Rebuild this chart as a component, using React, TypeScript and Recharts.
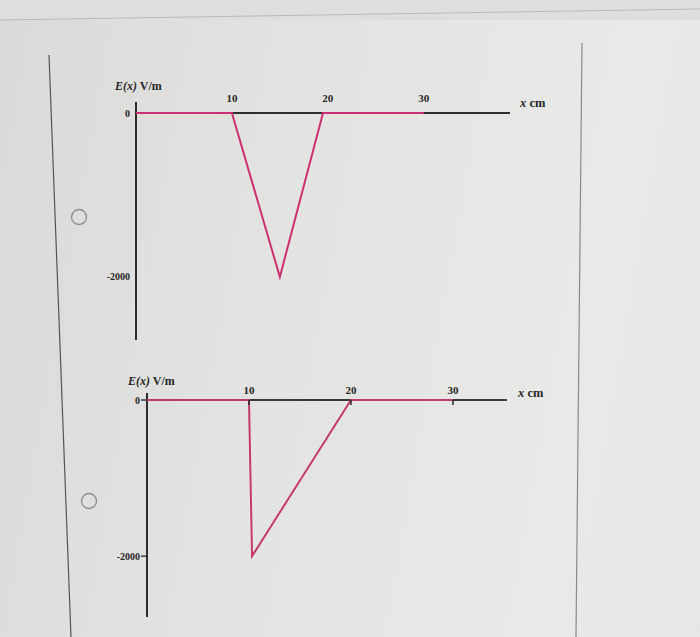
import React from 'react';
import { LineChart, Line, XAxis, YAxis, ReferenceLine } from 'recharts';

// top graph: symmetric V between 10 and 20 cm
const topX = [0, 10, 15, 19.5, 30];
const topE = [0, 0, -2000, 0, 0];
// bottom graph: sudden drop at 10, linear rise back to 0 at 20
const bottomX = [0, 10, 10.3, 20, 30];
const bottomE = [0, 0, -2000, 0, 0];

const xTicks = [10, 20, 30];
const yTicks = [0, -2000];

const topData = topX.map((x, i) => ({ x, e: topE[i] }));
const bottomData = bottomX.map((x, i) => ({ x, e: bottomE[i] }));

const font = '"Liberation Serif", "DejaVu Serif", serif';
const ink = '#262626';

const makeTick = (mark: boolean, dy: number) => (p: any) => (
  <g>
    <text x={p.x} y={p.y + dy} textAnchor="middle" fontFamily={font} fontSize={11} fontWeight="bold" fill={ink}>
      {p.payload.value}
    </text>
    {mark && <line x1={p.x} x2={p.x} y1={p.y + 7} y2={p.y + 12} stroke={ink} strokeWidth={1.5} />}
  </g>
);

const yTickStyle = { fontFamily: font, fontSize: 10, fontWeight: 'bold', fill: ink } as const;

export default function App() {
  return (
    <div
      style={{
        position: 'fixed',
        left: 0,
        top: 0,
        width: 700,
        height: 637,
        overflow: 'hidden',
        background: 'linear-gradient(100deg, #dadbd8 0%, #e3e4e1 40%, #e9e9e8 80%, #e6e6e5 100%)',
      }}
    >
      <svg width={700} height={637} style={{ position: 'absolute', left: 0, top: 0 }}>
        <rect x={0} y={0} width={700} height={20} fill="#dedfdd" />
        <line x1={0} y1={20} x2={700} y2={9} stroke="#b9bab8" strokeWidth={1} />
        <line x1={49} y1={55} x2={71} y2={637} stroke="#555" strokeWidth={1.2} />
        <line x1={582} y1={43} x2={576} y2={637} stroke="#8a8a8a" strokeWidth={1.2} />
        <circle cx={79} cy={217} r={7.5} fill="none" stroke="#8c8c8c" strokeWidth={1.3} />
        <circle cx={89} cy={501} r={7.5} fill="none" stroke="#8c8c8c" strokeWidth={1.3} />

        <text x={115} y={90} fontFamily={font} fontSize={12} fontWeight="bold" fill={ink}>
          <tspan fontStyle="italic">E(x)</tspan> V/m
        </text>
        <text x={520} y={107} fontFamily={font} fontSize={12.5} fontWeight="bold" fill={ink}>
          <tspan fontStyle="italic">x</tspan> cm
        </text>
        <text x={128} y={385} fontFamily={font} fontSize={12} fontWeight="bold" fill={ink}>
          <tspan fontStyle="italic">E(x)</tspan> V/m
        </text>
        <text x={518} y={397} fontFamily={font} fontSize={12.5} fontWeight="bold" fill={ink}>
          <tspan fontStyle="italic">x</tspan> cm
        </text>
      </svg>

      <div style={{ position: 'absolute', left: 0, top: 0 }}>
        <LineChart width={700} height={360} data={topData} margin={{ top: 82, right: 190, bottom: 20, left: 96 }}>
          <XAxis
            type="number" dataKey="x" domain={[0, 39]} orientation="top" height={20}
            ticks={xTicks} axisLine={false} tickLine={false} tickSize={0} tickMargin={0}
            tick={makeTick(false, 0)} interval={0}
          />
          <YAxis
            type="number" domain={[-2770, 134]} width={40} ticks={yTicks}
            axisLine={false} tickLine={false} tickSize={0} tickMargin={6} tick={yTickStyle} interval={0}
          />
          <ReferenceLine y={0} stroke="#2e2e2e" strokeWidth={2} />
          <ReferenceLine x={0} stroke="#2e2e2e" strokeWidth={2} />
          <Line type="linear" dataKey="e" stroke="#cc2f72" strokeWidth={2} dot={false} isAnimationActive={false} />
        </LineChart>
      </div>

      <div style={{ position: 'absolute', left: 0, top: 360 }}>
        <LineChart width={700} height={277} data={bottomData} margin={{ top: 13, right: 193, bottom: 20, left: 107 }}>
          <XAxis
            type="number" dataKey="x" domain={[0, 35.3]} orientation="top" height={20}
            ticks={xTicks} axisLine={false} tickLine={false} tickSize={0} tickMargin={0}
            tick={makeTick(true, 1)} interval={0}
          />
          <YAxis
            type="number" domain={[-2780, 90]} width={40} ticks={yTicks}
            axisLine={false} tickLine={{ stroke: ink, strokeWidth: 1.3 }} tickSize={6} tickMargin={1}
            tick={yTickStyle} interval={0}
          />
          <ReferenceLine y={0} stroke="#3a3a3a" strokeWidth={1.8} />
          <ReferenceLine x={0} stroke="#2e2e2e" strokeWidth={2} />
          <Line type="linear" dataKey="e" stroke="#c43a6c" strokeWidth={2} dot={false} isAnimationActive={false} />
        </LineChart>
      </div>
    </div>
  );
}
